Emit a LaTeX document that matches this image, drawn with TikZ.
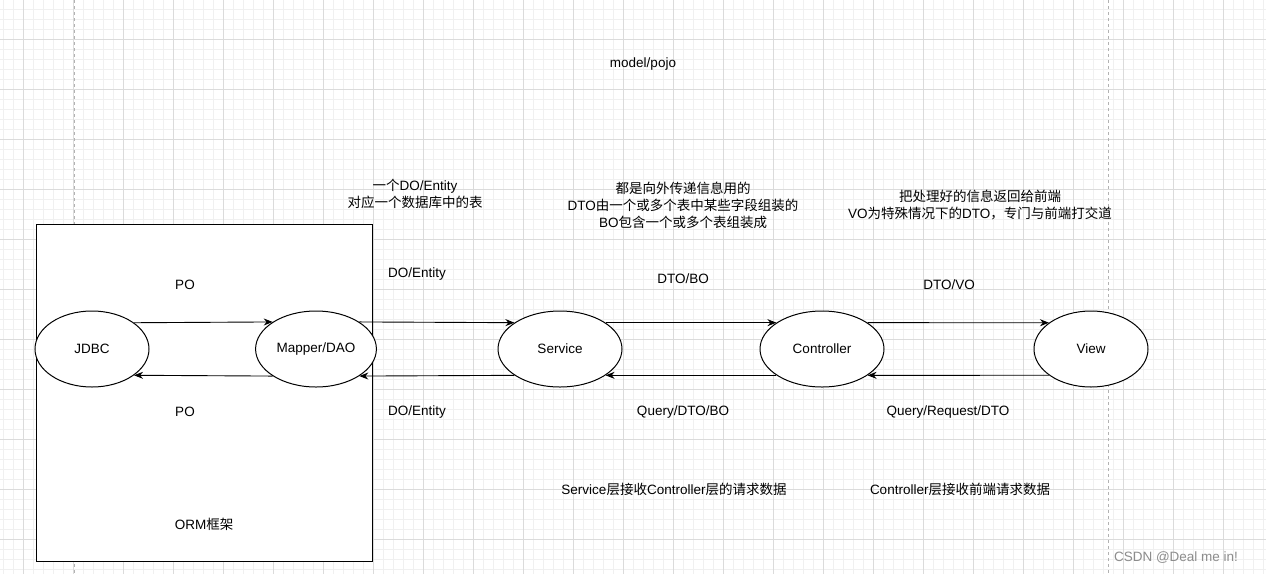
\documentclass[tikz,border=0pt]{standalone}
\usepackage{fontspec}
\setmainfont{Liberation Sans}
\newfontfamily\cjk{Noto Sans CJK SC}
\usetikzlibrary{arrows.meta,shapes.geometric}
\begin{document}
\begin{tikzpicture}[x=1pt,y=-1pt,
  txt/.style={font=\fontsize{13.5}{17}\selectfont,align=center,inner sep=0pt},
  el/.style={draw,ellipse,line width=1pt,minimum height=76pt,font=\fontsize{13.5}{17}\selectfont},
  arr/.style={line width=0.9pt,-{Stealth[length=9pt,width=7pt]}}]
\useasboundingbox (0,0) rectangle (1266,574);
\fill[white] (0,0) rectangle (1266,574);
\foreach \x in {3,13,...,1266} \draw[color=black!6,line width=0.7pt] (\x,0) -- (\x,574);
\foreach \y in {9,19,...,574} \draw[color=black!6,line width=0.7pt] (0,\y) -- (1266,\y);
\foreach \x in {23,73,...,1266} \draw[color=black!14,line width=0.7pt] (\x,0) -- (\x,574);
\foreach \y in {39,89,...,574} \draw[color=black!14,line width=0.7pt] (0,\y) -- (1266,\y);
\foreach \x in {74,1108} \draw[color=black!30,dashed,line width=1pt] (\x,0) -- (\x,574);
\draw[line width=1pt,fill=white] (36,224) rectangle (372,561);
\node[el,minimum width=114pt,fill=white] (jdbc) at (92,349) {JDBC};
\node[el,minimum width=112pt,fill=white] (dao) at (316,349) {Mapper/DAO};
\node[el,minimum width=124pt,fill=white] (svc) at (560,349) {Service};
\node[el,minimum width=124pt,fill=white] (ctl) at (822,349) {Controller};
\node[el,minimum width=114pt,fill=white] (view) at (1091,349) {View};
\draw[arr] (jdbc.32) -- (dao.148);
\draw[arr] (dao.32) -- (svc.150);
\draw[arr] (svc.30) -- (ctl.150);
\draw[arr] (ctl.30) -- (view.148);
\draw[arr] (view.-148) -- (ctl.-30);
\draw[arr] (ctl.-150) -- (svc.-30);
\draw[arr] (svc.-150) -- (dao.-32);
\draw[arr] (dao.-148) -- (jdbc.-32);
\node[txt] (t0) at (643,64) {model/pojo};
\node[txt] (t1) at (415,194) {{\cjk 一个}DO/Entity\\{\cjk 对应一个数据库中的表}};
\node[txt] (t2) at (683,205) {{\cjk 都是向外传递信息用的}\\DTO{\cjk 由一个或多个表中某些字段组装的}\\BO{\cjk 包含一个或多个表组装成}};
\node[txt] (t3) at (980,205) {{\cjk 把处理好的信息返回给前端}\\VO{\cjk 为特殊情况下的}DTO{\cjk ，专门与前端打交道}};
\node[txt] (p1) at (185,285) {PO};
\node[txt] (p2) at (185,412) {PO};
\node[txt] (d1) at (417,274) {DO/Entity};
\node[txt] (d2) at (417,412) {DO/Entity};
\node[txt] (b1) at (683,279) {DTO/BO};
\node[txt] (b2) at (683,412) {Query/DTO/BO};
\node[txt] (v1) at (949,285) {DTO/VO};
\node[txt] (v2) at (948,412) {Query/Request/DTO};
\node[txt] (s1) at (674,489) {Service{\cjk 层接收}Controller{\cjk 层的请求数据}};
\node[txt] (s2) at (960,489) {Controller{\cjk 层接收前端请求数据}};
\node[txt] (orm) at (204,524) {ORM{\cjk 框架}};
\node[txt,text=black!45] (wm) at (1176,558) {CSDN @Deal me in!};
\end{tikzpicture}
\end{document}
